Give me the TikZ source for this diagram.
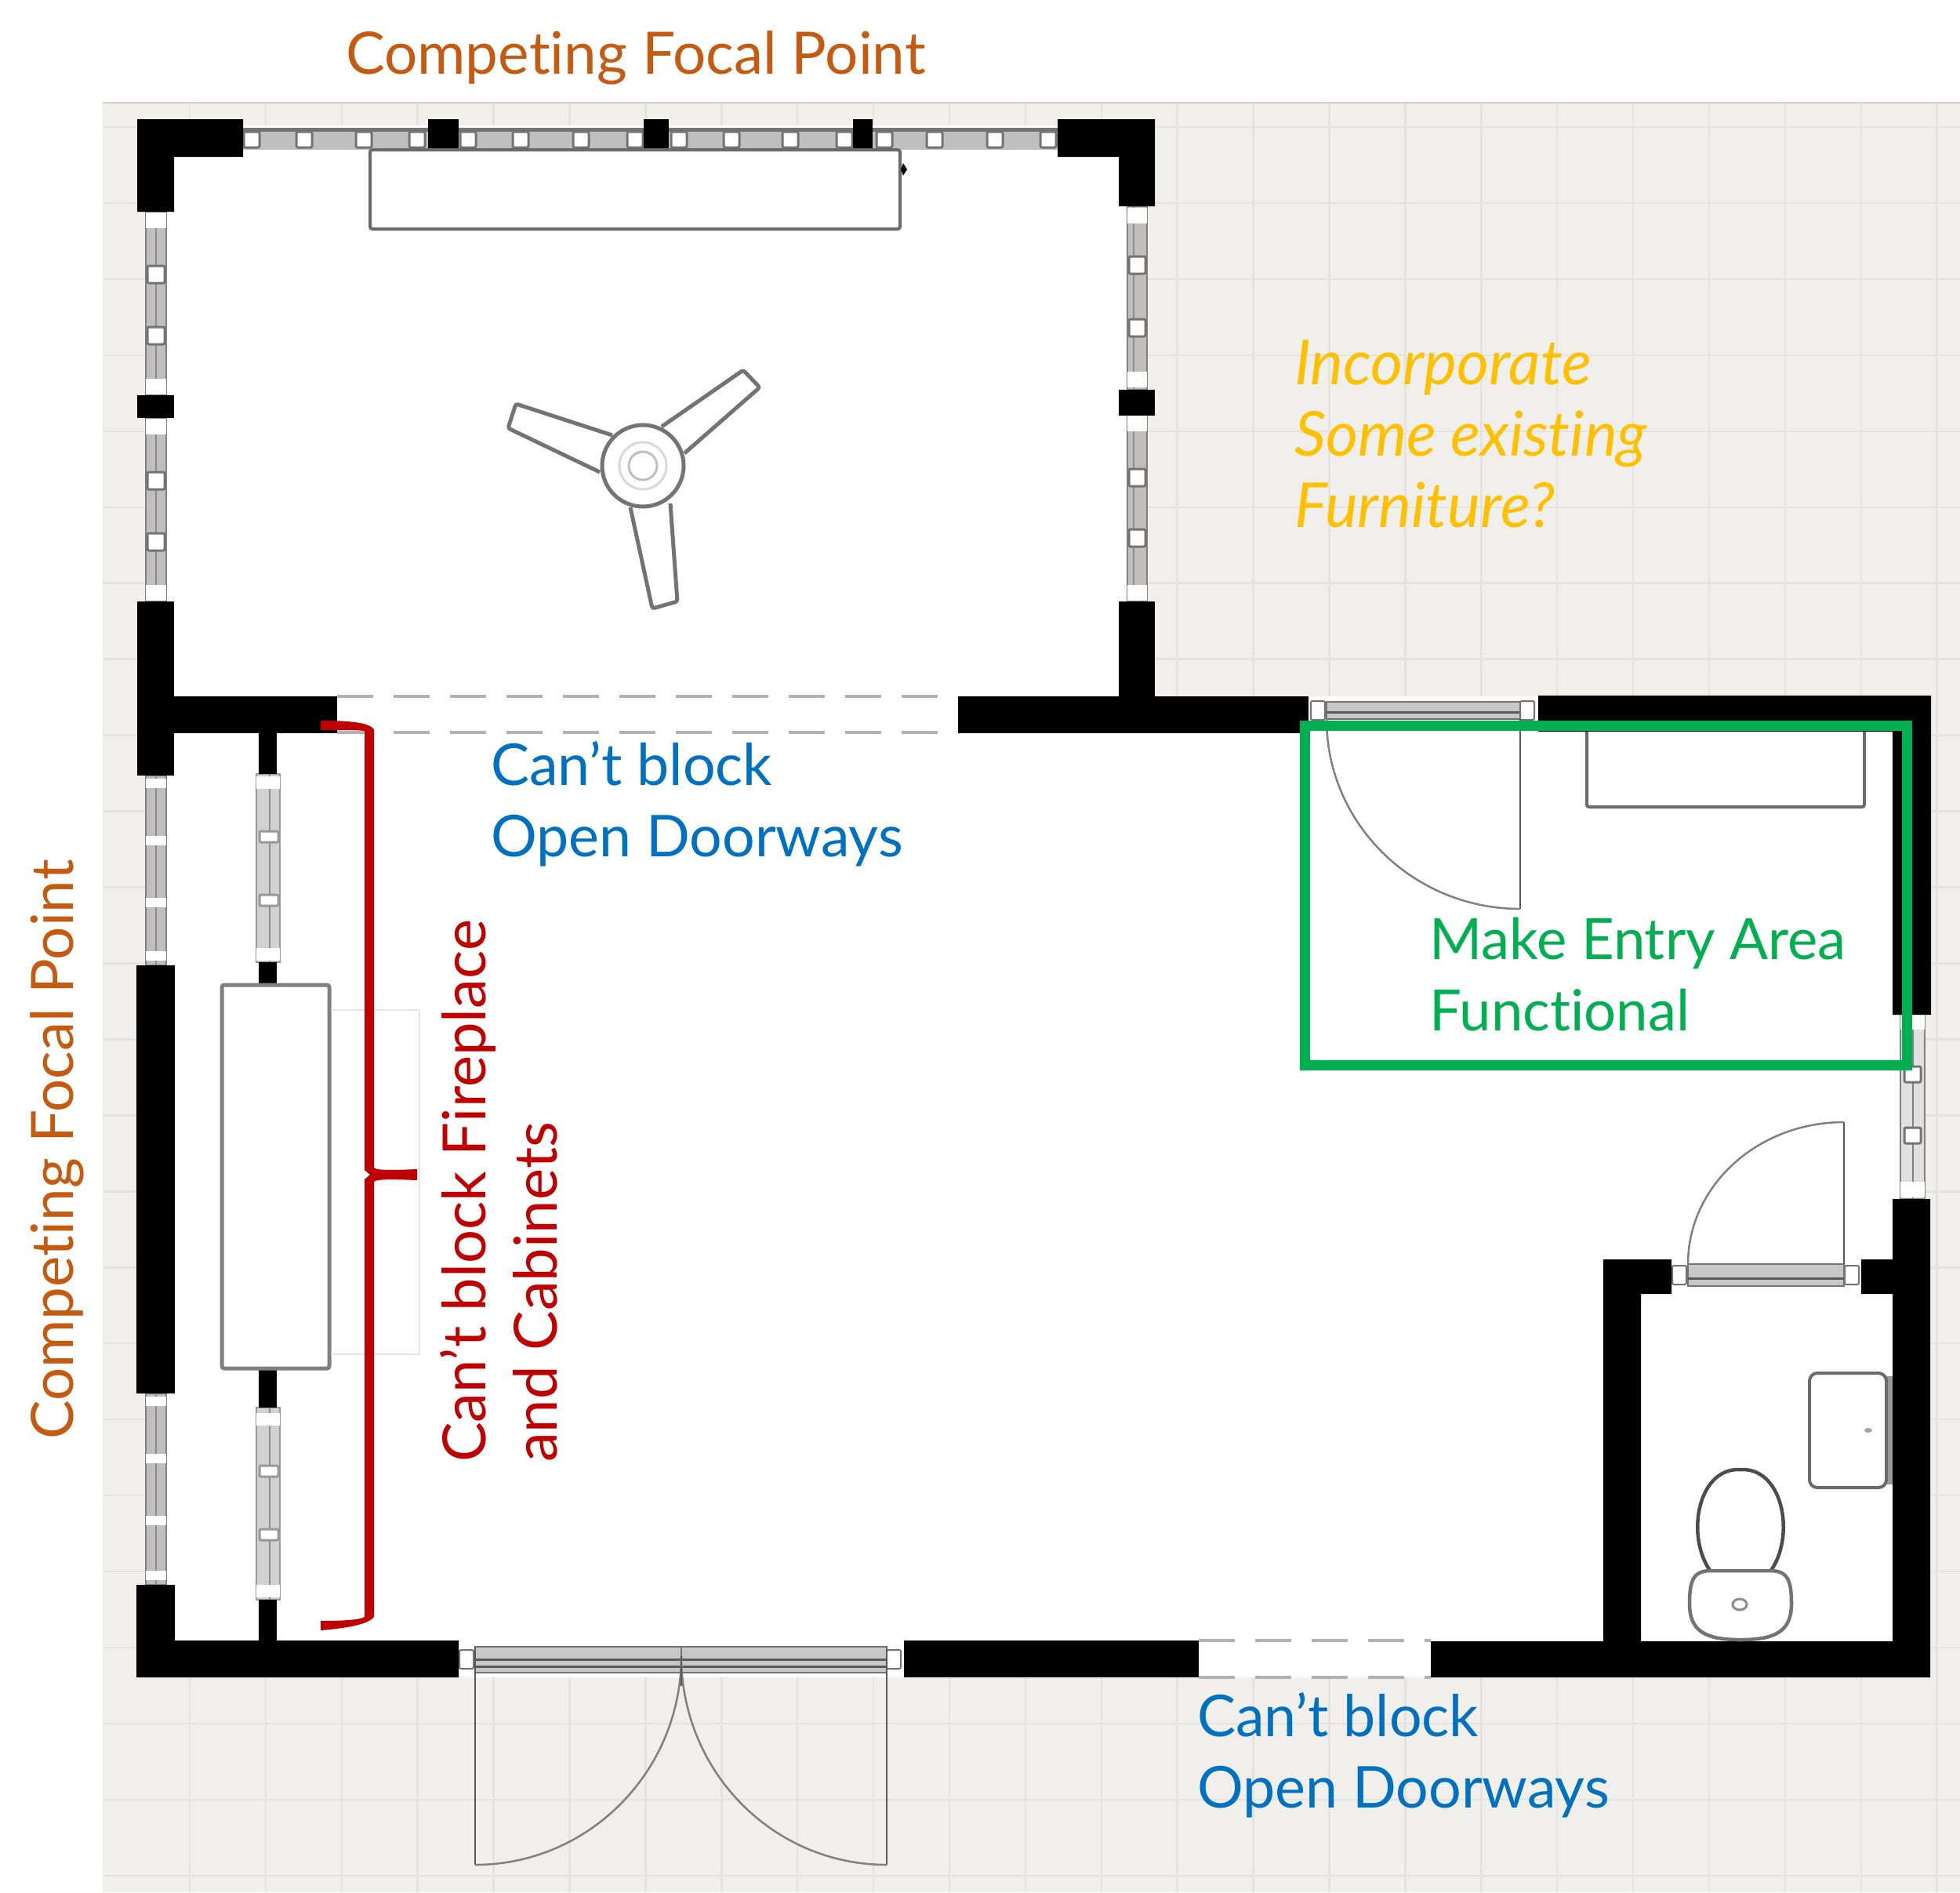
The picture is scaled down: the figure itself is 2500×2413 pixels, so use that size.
\documentclass[tikz,border=0pt]{standalone}
\usepackage{fontspec}
\setmainfont{Lato}[Ligatures=NoCommon]
\definecolor{bgc}{HTML}{F0EFEB}
\definecolor{gridc}{HTML}{E4E3DF}
\definecolor{orangec}{HTML}{C55A11}
\definecolor{goldc}{HTML}{FFC000}
\definecolor{bluec}{HTML}{0070C0}
\definecolor{greenc}{HTML}{00B050}
\definecolor{redc}{HTML}{C00000}
\tikzset{
  wallp/.style={fill=black},
  roomp/.style={fill=white},
  furn/.style={draw=black!58,line width=4pt,rounded corners=3pt,fill=white},
  leaf/.style={draw=black!65,line width=2.5pt},
  swing/.style={draw=black!50,line width=2.5pt},
  glass/.style={fill=black!25,draw=black!50,line width=2.5pt},
  stripe/.style={draw=black!45,line width=2pt},
  rail/.style={fill=black!22,draw=black!55,line width=2.5pt},
  sqw/.style={fill=white,draw=black!55,line width=3pt,rounded corners=2pt},
  capw/.style={fill=white,draw=none},
  dashdoor/.style={draw=black!30,line width=3.5pt,dash pattern=on 46pt off 26pt},
  label/.style={anchor=base west,inner sep=0pt,align=left,font=\fontsize{73.5}{91}\selectfont},
}
\begin{document}
\begin{tikzpicture}[x=1pt,y=-1pt]
\useasboundingbox (0,0) rectangle (2500,2413);
% sheet and grid
\fill[bgc] (131,131) rectangle (2500,2413);
\foreach \k in {0,...,23}{\draw[gridc,line width=2.5pt] (242+96.9*\k,131) -- (242+96.9*\k,2413);}
\foreach \k in {0,...,23}{\draw[gridc,line width=2.5pt] (131,162+96.95*\k) -- (2500,162+96.95*\k);}
\draw[black!18,line width=1.5pt] (131,131) -- (2500,131);
% interior floor
\fill[roomp] (186,160) rectangle (1463,935);
\fill[roomp] (186,888) rectangle (2455,2139);
% top window
\fill[glass,draw=none] (310,168) rectangle (1349,191);
\draw[black!55,line width=5pt] (310,165) -- (1349,165);
\foreach \x in {321,388,464,532,597,664,741,810,866,933,1008,1077,1128,1192,1269,1337}{\path[sqw] (\x-10,168) rectangle (\x+10,188);}
% left top-room windows
\foreach \a/\b in {270/504,533/767}{\path[glass] (186,\a) rectangle (212,\b); \draw[stripe] (199,\a) -- (199,\b);}
\foreach \y in {350,428,613,691}{\path[sqw] (188,\y-11) rectangle (210,\y+11);}
\foreach \y in {281,493,544,756}{\path[capw] (186,\y-10) rectangle (212,\y+10);}
% right top-room windows
\foreach \a/\b in {263/497,530/767}{\path[glass] (1438,\a) rectangle (1463,\b); \draw[stripe] (1446,\a) -- (1446,\b);}
\foreach \y in {338,418,609,686}{\path[sqw] (1440,\y-11) rectangle (1461,\y+11);}
\foreach \y in {275,484,540,756}{\path[capw] (1438,\y-10) rectangle (1463,\y+10);}
% left main-room windows
\foreach \a/\b in {989/1231,1777/2021}{\path[glass] (186,\a) rectangle (212,\b); \draw[stripe] (199,\a) -- (199,\b);}
\foreach \y in {999,1072,1151,1219,1787,1860,1939,2009}{\path[capw] (186,\y-6) rectangle (212,\y+6);}
% partition windows
\foreach \a/\b in {987/1227,1795/2040}{\path[fill=black!18,draw=black!40,line width=2.5pt] (327,\a) rectangle (357,\b); \draw[stripe] (344,\a) -- (344,\b);}
\foreach \y in {1067,1148,1876,1957}{\path[sqw,draw=black!40] (331,\y-7) rectangle (355,\y+7);}
\foreach \y in {998,1217,1810,2029}{\path[capw] (327,\y-8) rectangle (357,\y+8);}
% right main-room window
\path[glass,fill=black!12] (2424,1294) rectangle (2455,1529);
\draw[black!50,line width=2.5pt] (2440,1294) -- (2440,1529);
\foreach \y in {1370,1448}{\path[sqw] (2429,\y-10) rectangle (2450,\y+10);}
\foreach \y in {1303,1517}{\path[capw] (2424,\y-10) rectangle (2455,\y+10);}
% door rails
\foreach \a/\b/\c/\d in {1692/895/1939/917,2153/1612/2352/1640,606/2100/869/2133,869/2100/1131/2133}{\path[rail] (\a,\b) rectangle (\c,\d);}
\draw[black!65,line width=3pt] (1692,908) -- (1939,908) (2153,1630) -- (2352,1630) (606,2116) -- (1131,2116) (606,2125) -- (1131,2125);
\foreach \x/\y in {1681/906,1948/906,2142/1626,2362/1626,595/2116,1140/2116}{\path[sqw,line width=2pt] (\x-9,\y-12) rectangle (\x+9,\y+12);}
% walls
\path[wallp] (175,152) -- (310,152) -- (310,200) -- (222,200) -- (222,270) -- (175,270) -- cycle;
\path[wallp] (1349,152) -- (1473,152) -- (1473,263) -- (1427,263) -- (1427,200) -- (1349,200) -- cycle;
\path[wallp] (546,152) rectangle (585,191);
\path[wallp] (821,152) rectangle (853,191);
\path[wallp] (1088,152) rectangle (1113,191);
\path[wallp] (175,504) rectangle (222,533);
\path[wallp] (1427,497) rectangle (1473,530);
\path[wallp] (175,767) rectangle (222,989);
\path[wallp] (222,888) rectangle (430,935);
\path[wallp] (330,935) rectangle (353,987);
\path[wallp] (1427,767) rectangle (1473,888);
\path[wallp] (1222,888) rectangle (1669,935);
\path[wallp] (1962,887) -- (2463,887) -- (2463,1294) -- (2414,1294) -- (2414,933) -- (1962,933) -- cycle;
\path[wallp] (174,1231) rectangle (223,1777);
\path[wallp] (174,2021) -- (223,2021) -- (223,2092) -- (585,2092) -- (585,2139) -- (174,2139) -- cycle;
\path[wallp] (330,1227) rectangle (353,1256);
\path[wallp] (330,1745) rectangle (353,1795);
\path[wallp] (330,2040) rectangle (353,2092);
\path[wallp] (1153,2092) rectangle (1529,2139);
\path[wallp] (1825,2093) -- (2045,2093) -- (2045,1606) -- (2132,1606) -- (2132,1650) -- (2093,1650) -- (2093,2093) -- (2414,2093) -- (2414,1650) -- (2374,1650) -- (2374,1606) -- (2414,1606) -- (2414,1529) -- (2462,1529) -- (2462,2139) -- (1825,2139) -- cycle;
% open doorways
\draw[dashdoor] (430,888) -- (1222,888) (430,934) -- (1222,934);
\draw[dashdoor] (1529,2092) -- (1825,2092) (1529,2139) -- (1825,2139);
% door leaves and swings
\draw[leaf] (1939,917) -- (1939,1159);
\draw[swing] (1692,917) .. controls (1692,1051) and (1803,1159) .. (1939,1159);
\draw[leaf] (2352,1612) -- (2352,1431);
\draw[swing] (2153,1612) .. controls (2153,1512) and (2242,1431) .. (2352,1431);
\draw[leaf] (606,2100) -- (606,2378);
\draw[swing] (869,2112) .. controls (869,2259) and (751,2378) .. (606,2378);
\draw[leaf] (1131,2100) -- (1131,2378);
\draw[swing] (869,2112) .. controls (869,2259) and (986,2378) .. (1131,2378);
\draw[leaf] (869,2112) -- (869,2150);
% furniture
\path[furn] (472,191) rectangle (1148,292);
\fill[black] (1152,208) -- (1157,216) -- (1152,224) -- (1149,216) -- cycle;
\path[furn,line width=5pt,draw=black!50] (283,1256) rectangle (420,1745);
\draw[black!10,line width=2pt] (422,1288) -- (535,1288) -- (535,1727) -- (422,1727);
\path[furn] (2024,933) -- (2024,1029) -- (2378,1029) -- (2378,933);
% ceiling fan
\path[furn,line width=5pt,draw=black!55] (781,555) -- (658,515) -- (648,546) -- (765,602);
\path[furn,line width=5pt,draw=black!55] (844,544) -- (948,472) -- (969,494) -- (873,578);
\path[furn,line width=5pt,draw=black!55] (804,647) -- (832,776) -- (864,767) -- (855,642);
\draw[black!55,line width=5pt,fill=white] (820,594) circle[radius=52];
\draw[black!15,line width=3pt] (820,594) circle[radius=30];
\draw[black!25,line width=3pt] (820,594) circle[radius=18];
% bathroom fixtures
\fill[black!40] (2405,1755) rectangle (2414,1893);
\path[furn,rounded corners=10pt] (2308,1751) rectangle (2406,1897);
\fill[black!35] (2383,1824) ellipse[x radius=5,y radius=3];
\path[furn,line width=4.5pt,draw=black!70] (2182,2004) .. controls (2150,1960) and (2165,1874) .. (2220,1874) .. controls (2275,1874) and (2290,1960) .. (2258,2004);
\path[furn,line width=4.5pt,rounded corners=0pt,draw=black!55] (2182,2003) .. controls (2160,2003) and (2155,2015) .. (2155,2045) .. controls (2155,2080) and (2175,2091) .. (2220,2091) .. controls (2265,2091) and (2285,2080) .. (2285,2045) .. controls (2285,2015) and (2280,2003) .. (2258,2003) -- cycle;
\draw[black!45,line width=3pt] (2219,2046) ellipse[x radius=9,y radius=7];
% annotations
\draw[greenc,line width=13pt] (1664,925) rectangle (2432,1358);
\fill[redc] (409,919) .. controls (445,919) and (470,921) .. (477,930) -- (477,1489) .. controls (480,1493) and (505,1492) .. (532,1491) -- (532,1505) .. controls (505,1504) and (480,1503) .. (477,1507) -- (477,2062) .. controls (470,2071) and (445,2076) .. (409,2079) -- (409,2067) .. controls (435,2067) and (458,2066) .. (465,2062) -- (465,1504) -- (472,1498) -- (465,1492) -- (465,932) .. controls (458,931) and (435,931) .. (409,931) -- cycle;
\node[label,text=orangec,font=\fontsize{74.6}{91}\selectfont] (focaltop) at (441,94) {Competing Focal Point};
\node[label,text=orangec,font=\fontsize{74.6}{91}\selectfont,rotate=90] (focalleft) at (93,1836) {Competing Focal Point};
\node[label,text=goldc,font=\fontsize{79}{91}\selectfont\itshape] (incorporate) at (1651,672) {Incorporate\\Some existing\\Furniture?};
\node[label,text=bluec] (doorsa) at (626,1092) {Can’t block\\Open Doorways};
\node[label,text=bluec] (doorsb) at (1527,2305) {Can’t block\\Open Doorways};
\node[label,font=\fontsize{72.5}{91}\selectfont,text=greenc] (entry) at (1823,1314) {Make Entry Area\\Functional};
\node[label,font=\fontsize{76}{91}\selectfont,text=redc,rotate=90] (fire) at (710,1865) {Can’t block Fireplace\\and Cabinets};
\end{tikzpicture}
\end{document}
